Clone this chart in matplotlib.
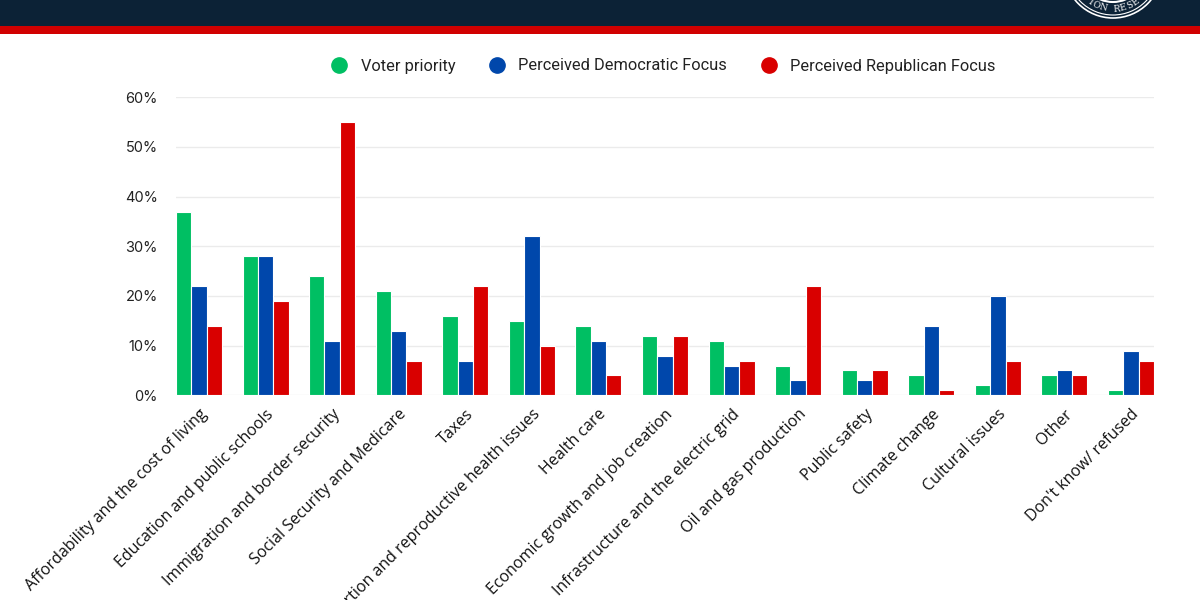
import numpy as np
import matplotlib.pyplot as plt
from matplotlib.patches import Rectangle, Circle
from matplotlib.lines import Line2D

categories = ["Affordability and the cost of living", "Education and public schools",
              "Immigration and border security", "Social Security and Medicare", "Taxes",
              "Abortion and reproductive health issues", "Health care",
              "Economic growth and job creation", "Infrastructure and the electric grid",
              "Oil and gas production", "Public safety", "Climate change",
              "Cultural issues", "Other", "Don't know/ refused"]
voter = [37, 28, 24, 21, 16, 15, 14, 12, 11, 6, 5, 4, 2, 4, 1]
dem = [22, 28, 11, 13, 7, 32, 11, 8, 6, 3, 3, 14, 20, 5, 9]
rep = [14, 19, 55, 7, 22, 10, 4, 12, 7, 22, 5, 1, 7, 4, 7]
series_names = ["Voter priority", "Perceived Democratic Focus", "Perceived Republican Focus"]
colors = ["#00BF63", "#0047AB", "#D90000"]
yticks = [0, 10, 20, 30, 40, 50, 60]

fig = plt.figure(figsize=(12, 6), dpi=100)

# header band with the seal peeking in
ax_h = fig.add_axes([0, 1 - 34 / 600, 1, 34 / 600])
ax_h.set_xlim(0, 1200)
ax_h.set_ylim(34, 0)
ax_h.axis('off')
ax_h.add_patch(Rectangle((0, 0), 1200, 26, color="#0C2236", lw=0))
ax_h.add_patch(Rectangle((0, 26), 1200, 8, color="#D10000", lw=0))
cx, cy = 1113, -31
for r, lw in [(49, 1.2), (46, 0.8), (33, 1.5)]:
    ax_h.add_patch(Circle((cx, cy), r, fill=False, ec="white", lw=lw))
seal = "ION RESE"
for i, ch in enumerate(seal):
    th = 90 + (3.5 - i) * 10
    x = cx + 40 * np.cos(np.radians(th))
    y = cy + 40 * np.sin(np.radians(th))
    ax_h.text(x, y, ch, color="white", fontsize=6.5, family="DejaVu Serif",
              ha="center", va="center", rotation=90 - th)

ax = fig.add_axes([176 / 1200, 1 - 395.3 / 600, 978 / 1200, 298 / 600])
x = np.arange(len(categories))
w = 0.23
for k, vals in enumerate([voter, dem, rep]):
    ax.bar(x + (k - 1) * w, vals, width=w, color=colors[k], edgecolor="white",
           linewidth=0.8, zorder=3)

ax.set_xlim(-0.345, len(categories) - 1 + 0.345)
ax.set_ylim(0, 60)
ax.set_yticks(yticks)
ax.set_yticklabels([f"{v}%" for v in yticks], family="Inter", fontsize=10.5, color="#222222")
ax.grid(axis="y", color="#EBEBEB", linewidth=1, zorder=0)
ax.tick_params(axis="both", length=0)
ax.tick_params(axis="y", pad=13)
for s in ax.spines.values():
    s.set_visible(False)
ax.set_xticks(x)
ax.set_xticklabels(categories, rotation=45, ha="right", rotation_mode="anchor",
                   family="Open Sans", fontsize=11.5, color="#111111")
ax.tick_params(axis="x", pad=8)

handles = [Line2D([], [], marker="o", ls="", markersize=11, color=c) for c in colors]
fig.legend(handles, series_names, loc="center", bbox_to_anchor=(0.5495, 1 - 66 / 600),
           ncol=3, frameon=False, prop={"family": "Roboto", "size": 11.8},
           handletextpad=0.3, columnspacing=1.55, labelcolor="#222222")

fig.savefig("out.png", dpi=100)
